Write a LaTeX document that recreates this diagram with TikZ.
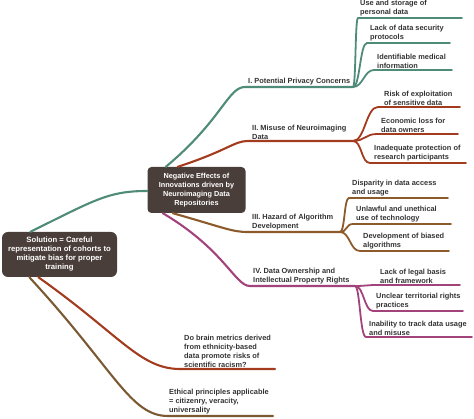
\documentclass[tikz,border=0pt]{standalone}
\usepackage{fontspec}
\setmainfont{Liberation Sans}
\definecolor{cteal}{HTML}{4E8B78}
\definecolor{cred}{HTML}{A33B1E}
\definecolor{cbrown}{HTML}{8C5A2B}
\definecolor{cmag}{HTML}{A3437C}
\definecolor{colive}{HTML}{7B5A33}
\definecolor{cbox}{HTML}{4A3E3A}
\definecolor{ctext}{HTML}{333333}
\begin{document}
\begin{tikzpicture}[x=1pt,y=-1pt,
  leaf/.style={anchor=south west,align=left,inner xsep=0pt,inner ysep=1.4pt,
     font=\fontsize{7.4}{9}\selectfont\bfseries,text=ctext},
  topicbox/.style={fill=cbox,rounded corners=4pt,align=center,text=white,
     font=\fontsize{7.3}{9}\selectfont\bfseries,inner sep=0pt},
  conn/.style={line width=1.8pt,line cap=round},
  mainconn/.style={line width=2.1pt,line cap=round}]
\useasboundingbox (0,0) rectangle (474,419);

% main topics
\node[topicbox,minimum width=98pt,minimum height=46pt] (central) at (196.5,190)
  {Negative Effects of\\Innovations driven by\\Neuroimaging Data\\Repositories};
\node[topicbox,rounded corners=6pt,minimum width=115pt,minimum height=45pt,
  font=\fontsize{7.7}{9}\selectfont\bfseries] (sol) at (59.5,254.5)
  {Solution = Careful\\representation of cohorts to\\mitigate bias for proper\\training};

\draw[mainconn,cteal] ([xshift=28.5pt]sol.north west) .. controls (95,200) and (108,191) .. (central.west |- 0,191);

% branch labels
\node[leaf] (l1) at (248,87) {I. Potential Privacy Concerns};
\node[leaf] (l2) at (252,141) {II. Misuse of Neuroimaging\\Data};
\node[leaf] (l3) at (252,232) {III. Hazard of Algorithm\\Development};
\node[leaf] (l4) at (253,286) {IV. Data Ownership and\\Intellectual Property Rights};

\coordinate (b1) at (353,87);
\coordinate (b2) at (353,141);
\coordinate (b3) at (340,232);
\coordinate (b4) at (355,286);

\draw[mainconn,cteal] ([xshift=18.5pt]central.north west) .. controls (222,120) and (228,87) .. ([xshift=-3pt]l1.south west) -- (b1);
\draw[mainconn,cred] ([xshift=30.5pt]central.north west) .. controls (229,150) and (234,141) .. ([xshift=-4pt]l2.south west) -- (b2);
\draw[mainconn,cbrown] ([xshift=25.5pt]central.south west) .. controls (225,228) and (232,232) .. ([xshift=-4pt]l3.south west) -- (b3);
\draw[mainconn,cmag] ([xshift=15.5pt]central.south west) .. controls (225,250) and (235,286) .. ([xshift=-3pt]l4.south west) -- (b4);

% I children
\node[leaf] (i1) at (360,18) {Use and storage of\\personal data};
\node[leaf] (i2) at (370,43) {Lack of data security\\protocols};
\node[leaf] (i3) at (377,70) {Identifiable medical\\information};
\coordinate (i1e) at (462,18);
\coordinate (i2e) at (450,43);
\coordinate (i3e) at (452,70);
\draw[conn,cteal] (b1) .. controls (356,87) and (355,18) .. ([xshift=-2pt]i1.south west) -- (i1e);
\draw[conn,cteal] (b1) .. controls (360,87) and (360,43) .. ([xshift=-3pt]i2.south west) -- (i2e);
\draw[conn,cteal] (b1) .. controls (363,87) and (364,70) .. ([xshift=-3pt]i3.south west) -- (i3e);

% II children
\node[leaf] (j1) at (384,107) {Risk of exploitation\\of sensitive data};
\node[leaf] (j2) at (381,134) {Economic loss for\\data owners};
\node[leaf] (j3) at (374,163) {Inadequate protection of\\research participants};
\coordinate (j1e) at (460,107);
\coordinate (j2e) at (458,134);
\coordinate (j3e) at (466,163);
\draw[conn,cred] (b2) .. controls (365,141) and (366,107) .. ([xshift=-6pt]j1.south west) -- (j1e);
\draw[conn,cred] (b2) .. controls (365,141) and (365,134) .. ([xshift=-4pt]j2.south west) -- (j2e);
\draw[conn,cred] (b2) .. controls (362,141) and (361,163) .. ([xshift=-4pt]j3.south west) -- (j3e);

% III children
\node[leaf] (k1) at (352,198) {Disparity in data access\\and usage};
\node[leaf] (k2) at (356,224) {Unlawful and unethical\\use of technology};
\node[leaf] (k3) at (363,251) {Development of biased\\algorithms};
\coordinate (k1e) at (448,198);
\coordinate (k2e) at (451,224);
\coordinate (k3e) at (449,251);
\draw[conn,cbrown] (b3) .. controls (345,232) and (344,198) .. ([xshift=-3pt]k1.south west) -- (k1e);
\draw[conn,cbrown] (b3) .. controls (347,232) and (346,224) .. ([xshift=-3pt]k2.south west) -- (k2e);
\draw[conn,cbrown] (b3) .. controls (350,232) and (350,251) .. ([xshift=-3pt]k3.south west) -- (k3e);

% IV children
\node[leaf] (m1) at (380,285) {Lack of legal basis\\and framework};
\node[leaf] (m2) at (376,311) {Unclear territorial rights\\practices};
\node[leaf] (m3) at (369,337) {Inability to track data usage\\and misuse};
\coordinate (m1e) at (460,285);
\coordinate (m2e) at (463,311);
\coordinate (m3e) at (472,337);
\draw[conn,cmag] (b4) .. controls (365,286) and (367,285) .. ([xshift=-3pt]m1.south west) -- (m1e);
\draw[conn,cmag] (b4) .. controls (364,286) and (364,311) .. ([xshift=-3pt]m2.south west) -- (m2e);
\draw[conn,cmag] (b4) .. controls (360,286) and (360,337) .. ([xshift=-3pt]m3.south west) -- (m3e);

% bottom branches
\node[leaf] (q1) at (184,369) {Do brain metrics derived\\from ethnicity-based\\data promote risks of\\scientific racism?};
\node[leaf] (q2) at (169,416) {Ethical principles applicable\\= citizenry, veracity,\\universality};
\coordinate (q1e) at (275,369);
\coordinate (q2e) at (273,416);
\draw[mainconn,cred] ([xshift=36.5pt]sol.south west) .. controls (120,335) and (140,369) .. ([xshift=-4pt]q1.south west) -- (q1e);
\draw[mainconn,colive] ([xshift=27.5pt]sol.south west) .. controls (115,370) and (130,416) .. ([xshift=-1pt]q2.south west) -- (q2e);
\end{tikzpicture}
\end{document}
